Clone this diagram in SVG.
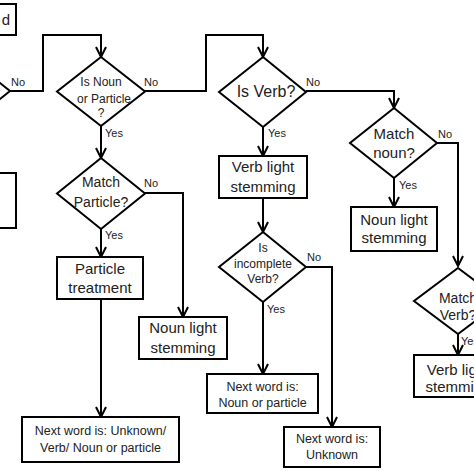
<svg xmlns="http://www.w3.org/2000/svg" width="474" height="474" viewBox="0 0 474 474">
<style>
.s{fill:#fff;stroke:#000;stroke-width:2}
.c{fill:none;stroke:#000;stroke-width:2}
text{font-family:"Liberation Sans",Arial,sans-serif;fill:#222;text-anchor:middle}
.l{font-size:11px;text-anchor:start}
.t15{font-size:15px}
.t12{font-size:12px}
</style>
<defs>
<marker id="a" viewBox="0 0 12 12" refX="11" refY="6" markerWidth="12" markerHeight="12" markerUnits="userSpaceOnUse" orient="auto">
<path d="M1,1 L11,6 L1,11" fill="none" stroke="#000" stroke-width="2"/>
</marker>
</defs>
<rect width="474" height="474" fill="#fff"/>
<g id="connectors">
<polyline class="c" points="10,91 43,91 43,35 101,35 101,57" marker-end="url(#a)"/>
<polyline class="c" points="101,126 101,158" marker-end="url(#a)"/>
<polyline class="c" points="145,91 206,91 206,35 263,35 263,57" marker-end="url(#a)"/>
<polyline class="c" points="263,127 263,156" marker-end="url(#a)"/>
<polyline class="c" points="306,91 394,91 394,108" marker-end="url(#a)"/>
<polyline class="c" points="394,178 394,207" marker-end="url(#a)"/>
<polyline class="c" points="437,143 458,143 458,266" marker-end="url(#a)"/>
<polyline class="c" points="458,333 458,355" marker-end="url(#a)"/>
<polyline class="c" points="263,198 263,232" marker-end="url(#a)"/>
<polyline class="c" points="306,267 332,267 332,427" marker-end="url(#a)"/>
<polyline class="c" points="263,302 263,374" marker-end="url(#a)"/>
<polyline class="c" points="101,229 101,257" marker-end="url(#a)"/>
<polyline class="c" points="145,193 183,193 183,317" marker-end="url(#a)"/>
<polyline class="c" points="101,299 101,417" marker-end="url(#a)"/>
</g>
<g id="labels">
<text class="l" x="11" y="86">No</text>
<text class="l" x="144" y="86">No</text>
<text class="l" x="306" y="86">No</text>
<text class="l" x="105" y="137">Yes</text>
<text class="l" x="268" y="137">Yes</text>
<text class="l" x="438" y="138">No</text>
<text class="l" x="144" y="187">No</text>
<text class="l" x="399" y="189">Yes</text>
<text class="l" x="105" y="239">Yes</text>
<text class="l" x="307" y="261">No</text>
<text class="l" x="267" y="313">Yes</text>
<text class="l" x="461" y="345">Yes</text>
</g>
<g id="start">
<rect class="s" x="-60" y="4" width="76" height="31"/>
<text x="6" y="25" style="font-size:15px">d</text>
</g>
<g id="leftDecision">
<polygon class="s" points="-34,56 10,91 -34,126 -78,91"/>
</g>
<g id="leftBox">
<rect class="s" x="-80" y="173" width="96" height="55"/>
</g>
<g id="isNoun">
<polygon class="s" points="101,57 145,91.5 101,126 57,91.5"/>
<text class="t12" x="101" y="86">Is Noun</text>
<text class="t12" x="104" y="103">or Particle</text>
<text class="t12" x="101" y="117">?</text>
</g>
<g id="isVerb">
<polygon class="s" points="263,57 306,92 263,127 219,92"/>
<text x="266" y="97" style="font-size:16px">Is Verb?</text>
</g>
<g id="matchNoun">
<polygon class="s" points="394,108 437,143 394,178 350,143"/>
<text class="t15" x="394" y="139">Match</text>
<text class="t15" x="394" y="158">noun?</text>
</g>
<g id="nounLightRight">
<rect class="s" x="351" y="207" width="86" height="44"/>
<text class="t15" x="394" y="225">Noun light</text>
<text class="t15" x="394" y="243">stemming</text>
</g>
<g id="matchVerb">
<polygon class="s" points="458,268 502,301 458,334 414,301"/>
<text x="458" y="303" style="font-size:14px">Match</text>
<text x="458" y="320" style="font-size:14px">Verb?</text>
</g>
<g id="verbLightRight">
<rect class="s" x="414" y="355" width="88" height="42"/>
<text class="t15" x="458" y="375">Verb light</text>
<text class="t15" x="458" y="392">stemming</text>
</g>
<g id="verbLight">
<rect class="s" x="219" y="156" width="88" height="42"/>
<text class="t15" x="263" y="172">Verb light</text>
<text class="t15" x="263" y="192">stemming</text>
</g>
<g id="isIncomplete">
<polygon class="s" points="263,232 306,267 263,302 219,267"/>
<text class="t12" x="263" y="252">Is</text>
<text class="t12" x="263" y="268">incomplete</text>
<text class="t12" x="263" y="283">Verb?</text>
</g>
<g id="nextNounParticle">
<rect class="s" x="207" y="374" width="111" height="39"/>
<text x="262.5" y="391" style="font-size:12.5px">Next word is:</text>
<text x="262.5" y="407" style="font-size:12.5px">Noun or particle</text>
</g>
<g id="nextUnknown">
<rect class="s" x="284" y="427" width="96" height="40"/>
<text x="332" y="443" style="font-size:12.5px">Next word is:</text>
<text x="332" y="459" style="font-size:12.5px">Unknown</text>
</g>
<g id="matchParticle">
<polygon class="s" points="101,158 145,193.5 101,229 57,193.5"/>
<text x="101" y="187" style="font-size:14px">Match</text>
<text x="101" y="207" style="font-size:14px">Particle?</text>
</g>
<g id="particleTreatment">
<rect class="s" x="57" y="257" width="86" height="42"/>
<text class="t15" x="100" y="274">Particle</text>
<text class="t15" x="100" y="293">treatment</text>
</g>
<g id="nounLightLeft">
<rect class="s" x="139" y="317" width="88" height="42"/>
<text class="t15" x="183" y="333">Noun light</text>
<text class="t15" x="183" y="353">stemming</text>
</g>
<g id="nextAll">
<rect class="s" x="22" y="417" width="157" height="45"/>
<text x="100.5" y="435" style="font-size:12.5px">Next word is: Unknown/</text>
<text x="100.5" y="452" style="font-size:12.5px">Verb/ Noun or particle</text>
</g>
</svg>
